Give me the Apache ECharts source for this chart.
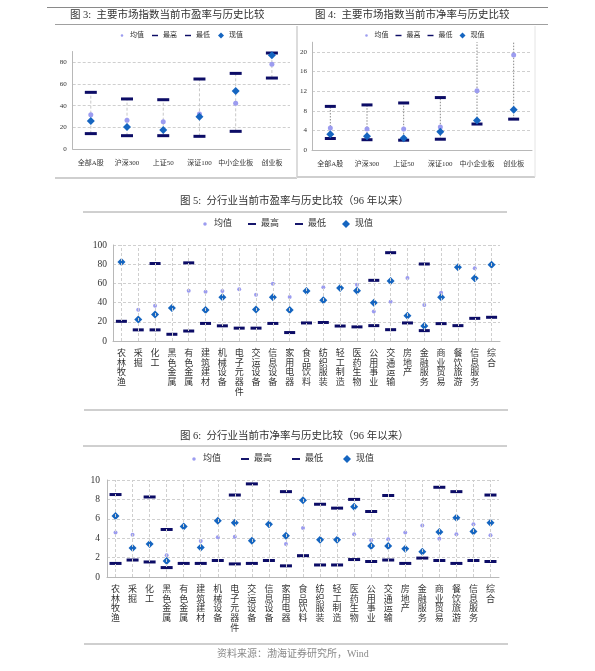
<!DOCTYPE html>
<html>
<head>
<meta charset="utf-8">
<script src="https://cdn.jsdelivr.net/npm/echarts@6/dist/echarts.min.js"></script>
<style>
html, body { margin: 0; padding: 0; background: #fff; }
#main { width: 595px; height: 671px; }
</style>
</head>
<body>
<div id="main"></div>
<script>
// ---- data ----
var idxNames = ['全部A股', '沪深300', '上证50', '深证100', '中小企业板', '创业板'];

var pe3Mean = [31.7, 26.5, 25.2, 32.3, 42.2, 78.2];
var pe3Max  = [52.3, 46.2, 45.5, 64.6, 69.8, 88.6];
var pe3Min  = [14.2, 12.3, 12.3, 11.7, 16.3, 65.5];
var pe3Now  = [25.8, 20.3, 17.5, 29.8, 53.5, 86.5];

var pb4Mean = [4.5, 4.3, 4.3, 4.7, 12.1, 19.4];
var pb4Max  = [8.9, 9.2, 9.6, 10.7, 24, 26];   // last two run off the top
var pb4Min  = [2.35, 2.1, 2.0, 2.2, 5.3, 6.3];
var pb4Now  = [3.2, 2.8, 2.4, 3.7, 6.0, 8.2];

var indNames = ['农林牧渔', '采掘', '化工', '黑色金属', '有色金属', '建筑建材', '机械设备', '电子元器件',
    '交运设备', '信息设备', '家用电器', '食品饮料', '纺织服装', '轻工制造', '医药生物', '公用事业',
    '交通运输', '房地产', '金融服务', '商业贸易', '餐饮旅游', '信息服务', '综合'];

// null = off the chart
var pe5Mean = [null, 32.6, 36.8, null, 52.4, 51.4, 52.1, 53.8, 48.3, 59.7, 45.8, null,
    55.9, null, 58.7, 30.6, 41.0, 65.6, 37.5, 50.3, null, 75.7, null];
var pe5Max  = [null, null, 80.7, null, 81.4, null, null, null, null, null, null, null,
    null, null, null, 63.2, 92.0, null, 80.2, null, null, null, null];
var pe5Min  = [20.5, 11.6, 11.6, 7.0, 10.4, 18.3, 15.8, 13.4, 13.4, 18.3, 8.8, 18.8,
    19.3, 15.6, 14.7, 16.0, 11.8, 18.8, 10.8, 18.1, 16.0, 23.6, 24.7];
var pe5Now  = [82.3, 22.5, 27.5, 34.4, null, 32.2, 45.7, null, 32.7, 45.7, 32.2, 52.0,
    42.4, 55.2, 52.4, 39.9, 62.5, 26.4, 15.6, 45.5, 76.7, 65.3, 79.5];

var pb6Mean = [4.6, 4.35, null, 2.25, null, 3.7, 4.1, 4.15, null, null, 3.4, 5.05,
    null, null, 4.4, 3.8, 3.9, 4.6, 5.3, 3.95, 4.4, 5.45, 4.3];
var pb6Max  = [8.5, null, 8.25, 4.9, null, null, null, 8.45, 9.6, null, 8.8, null,
    7.5, 7.1, 8.0, 6.75, 8.4, null, null, 9.25, 8.8, null, 8.45];
var pb6Min  = [1.4, 1.75, 1.55, 0.97, 1.4, 1.4, 1.7, 1.35, 1.4, 1.7, 1.15, 2.2,
    1.24, 1.24, 1.8, 1.6, 1.75, 1.4, 1.95, 1.7, 1.4, 1.7, 1.6];
var pb6Now  = [6.3, 3.0, 3.4, 1.65, 5.2, 3.05, 5.8, 5.6, 3.75, 5.45, 4.25, 7.9,
    3.85, 3.85, 7.25, 3.2, 3.2, 2.9, 2.6, 4.65, 6.1, 4.7, 5.6];

// ---- styles ----
var FONT = "'Liberation Serif', 'Noto Sans CJK SC', serif";
var COL_MEAN = '#9c9cf0';
var COL_DASH = '#0c0c66';
var COL_NOW = '#1565c0';
var ICON_DOT = 'path://M0,0M10,10M2.8,5a2.2,2.2 0 1,1 4.4,0a2.2,2.2 0 1,1 -4.4,0z';
var ICON_DASH = 'path://M0,0M10,10M0,3.8h10v2.4h-10z';

function legendAt(left, top, size, gap, fontSize){
    return {
        left: left, top: top, itemWidth: size, itemHeight: size, itemGap: gap,
        selectedMode: false, padding: 0,
        textStyle: { fontSize: fontSize, color: '#333', fontFamily: FONT },
        data: [
            { name: '均值', icon: ICON_DOT, itemStyle: { color: COL_MEAN } },
            { name: '最高', icon: ICON_DASH, itemStyle: { color: COL_DASH } },
            { name: '最低', icon: ICON_DASH, itemStyle: { color: COL_DASH } },
            { name: '现值', icon: 'diamond', itemStyle: { color: COL_NOW } }
        ]
    };
}

function valAxis(gi, max, interval, fontSize, margin, hideTop){
    return {
        type: 'value', gridIndex: gi, min: 0, max: max, interval: interval,
        axisLine: { show: true, lineStyle: { color: '#b8b8b8' } },
        axisTick: { show: false },
        axisLabel: { fontSize: fontSize, color: '#333', fontFamily: FONT, margin: margin,
            showMaxLabel: hideTop ? false : null },
        splitLine: { show: true, showMaxLine: !hideTop, lineStyle: { color: '#cfcfcf', type: [3, 2] } }
    };
}

function catAxis(gi, data, fontSize, margin, vertical){
    return {
        type: 'category', gridIndex: gi, data: data, boundaryGap: true,
        axisLine: { lineStyle: { color: '#b8b8b8' } },
        axisTick: { length: 3, lineStyle: { color: '#b8b8b8' } },
        axisLabel: {
            interval: 0, fontSize: fontSize, color: '#333', fontFamily: FONT, margin: margin,
            lineHeight: vertical ? fontSize + 0.6 : null,
            formatter: vertical ? function(v){ return v.split('').join('\n'); } : null
        },
        splitLine: { show: false }
    };
}

function markSeries(name, gi, data, symbol, size, color, z){
    return {
        type: 'scatter', name: name, xAxisIndex: gi, yAxisIndex: gi, data: data,
        symbol: symbol, symbolSize: size, itemStyle: { color: color, opacity: 1 },
        z: z, silent: true, clip: true
    };
}

// dashed line between min and max
function hlRender(color, dash){
    return function(params, api){
        var lo = api.coord([api.value(0), api.value(1)]);
        var hi = api.coord([api.value(0), api.value(2)]);
        var top = params.coordSys.y;
        return {
            type: 'line',
            shape: { x1: lo[0], y1: lo[1], x2: hi[0], y2: Math.max(hi[1], top) },
            style: { stroke: color, lineWidth: 1, lineDash: dash }
        };
    };
}

function hlSeries(gi, mins, maxs, color, dash){
    return {
        type: 'custom', xAxisIndex: gi, yAxisIndex: gi, z: 1, silent: true,
        encode: { x: 0, y: [1, 2] },
        renderItem: hlRender(color, dash),
        data: mins.map(function(v, i){ return [i, v, maxs[i]]; })
    };
}

function vLines(names){
    return {
        silent: true, symbol: ['none', 'none'], label: { show: false },
        lineStyle: { color: '#cfcfcf', type: [3, 2], width: 1 },
        data: names.map(function(c){ return { xAxis: c }; })
    };
}

function titleAt(text, left, top){
    return { text: text, left: left, top: top, padding: 0,
        textStyle: { fontSize: 10.5, fontWeight: 'normal', color: '#333', fontFamily: FONT } };
}

var chart = echarts.init(document.getElementById('main'));

var pe5MeanS = markSeries('均值', 2, pe5Mean, 'circle', 4, COL_MEAN, 2);
pe5MeanS.markLine = vLines(indNames);
var pb6MeanS = markSeries('均值', 3, pb6Mean, 'circle', 4, COL_MEAN, 2);
pb6MeanS.markLine = vLines(indNames);

var options = {
    animation: false,
    backgroundColor: '#fff',
    graphic: [
        { type: 'line', shape: { x1: 47, y1: 7.5, x2: 548, y2: 7.5 }, style: { stroke: '#8a8a8a', lineWidth: 1 } },
        { type: 'line', shape: { x1: 55, y1: 24.5, x2: 548, y2: 24.5 }, style: { stroke: '#a0a0a0', lineWidth: 1 } },
        { type: 'line', shape: { x1: 55, y1: 178, x2: 297, y2: 178 }, style: { stroke: '#cfcfcf', lineWidth: 2 } },
        { type: 'line', shape: { x1: 297, y1: 26, x2: 297, y2: 178 }, style: { stroke: '#dcdcdc', lineWidth: 2 } },
        { type: 'line', shape: { x1: 297, y1: 177, x2: 535, y2: 177 }, style: { stroke: '#cfcfcf', lineWidth: 2 } },
        { type: 'line', shape: { x1: 535, y1: 26, x2: 535, y2: 177 }, style: { stroke: '#e4e4e4', lineWidth: 1 } },
        { type: 'line', shape: { x1: 83, y1: 212, x2: 507, y2: 212 }, style: { stroke: '#a0a0a0', lineWidth: 1 } },
        { type: 'line', shape: { x1: 84, y1: 410, x2: 508, y2: 410 }, style: { stroke: '#cfcfcf', lineWidth: 2 } },
        { type: 'line', shape: { x1: 83, y1: 446, x2: 507, y2: 446 }, style: { stroke: '#a0a0a0', lineWidth: 1 } },
        { type: 'line', shape: { x1: 84, y1: 644, x2: 508, y2: 644 }, style: { stroke: '#cfcfcf', lineWidth: 2 } },
        { type: 'text', left: 217, top: 649,
          style: { text: '资料来源：渤海证券研究所，Wind', fontSize: 10, fill: '#8a8a8a', fontFamily: FONT } }
    ],
    title: [
        titleAt('图 3:  主要市场指数当前市盈率与历史比较', 70, 10.5),
        titleAt('图 4:  主要市场指数当前市净率与历史比较', 315, 10.5),
        titleAt('图 5:  分行业当前市盈率与历史比较（96 年以来）', 180, 196.5),
        titleAt('图 6:  分行业当前市净率与历史比较（96 年以来）', 180, 431.5)
    ],
    legend: [
        legendAt(119, 32, 6, 8, 7),
        legendAt(363.5, 32, 6, 7, 7),
        legendAt(201, 219.5, 8, 16, 9),
        legendAt(190, 454.5, 8, 20, 9)
    ],
    grid: [
        { left: 72.7, top: 51.5, width: 217.3, height: 97.5, outerBoundsMode: 'none' },
        { left: 312, top: 42.2, width: 220, height: 107.8, outerBoundsMode: 'none' },
        { left: 113, top: 245, width: 387, height: 96, outerBoundsMode: 'none' },
        { left: 107, top: 480, width: 392, height: 97, outerBoundsMode: 'none' }
    ],
    xAxis: [
        catAxis(0, idxNames, 7, 11, false),
        catAxis(1, idxNames, 7, 11, false),
        catAxis(2, indNames, 9, 8, true),
        catAxis(3, indNames, 9, 8, true)
    ],
    yAxis: [
        valAxis(0, 90, 20, 7, 6, true),
        valAxis(1, 22, 4, 7, 5, true),
        valAxis(2, 100, 20, 9.5, 6, false),
        valAxis(3, 10, 2, 9.5, 7, false)
    ],
    series: [
        hlSeries(0, pe3Min, pe3Max, '#c8c8c8', [3, 2]),
        markSeries('均值', 0, pe3Mean, 'circle', 5, COL_MEAN, 2),
        markSeries('最高', 0, pe3Max, 'rect', [12, 3], COL_DASH, 3),
        markSeries('最低', 0, pe3Min, 'rect', [12, 3], COL_DASH, 3),
        markSeries('现值', 0, pe3Now, 'diamond', 8, COL_NOW, 4),

        hlSeries(1, pb4Min, pb4Max, '#8a8a8a', [1.5, 1.5]),
        markSeries('均值', 1, pb4Mean, 'circle', 5, COL_MEAN, 2),
        markSeries('最高', 1, pb4Max, 'rect', [11, 3], COL_DASH, 3),
        markSeries('最低', 1, pb4Min, 'rect', [11, 3], COL_DASH, 3),
        markSeries('现值', 1, pb4Now, 'diamond', 8, COL_NOW, 4),

        pe5MeanS,
        markSeries('最高', 2, pe5Max, 'rect', [11, 3], COL_DASH, 3),
        markSeries('最低', 2, pe5Min, 'rect', [11, 3], COL_DASH, 3),
        markSeries('现值', 2, pe5Now, 'diamond', 8, COL_NOW, 4),

        pb6MeanS,
        markSeries('最高', 3, pb6Max, 'rect', [12, 3], COL_DASH, 3),
        markSeries('最低', 3, pb6Min, 'rect', [12, 3], COL_DASH, 3),
        markSeries('现值', 3, pb6Now, 'diamond', 8, COL_NOW, 4)
    ]
};

chart.setOption(options);
</script>
</body>
</html>
